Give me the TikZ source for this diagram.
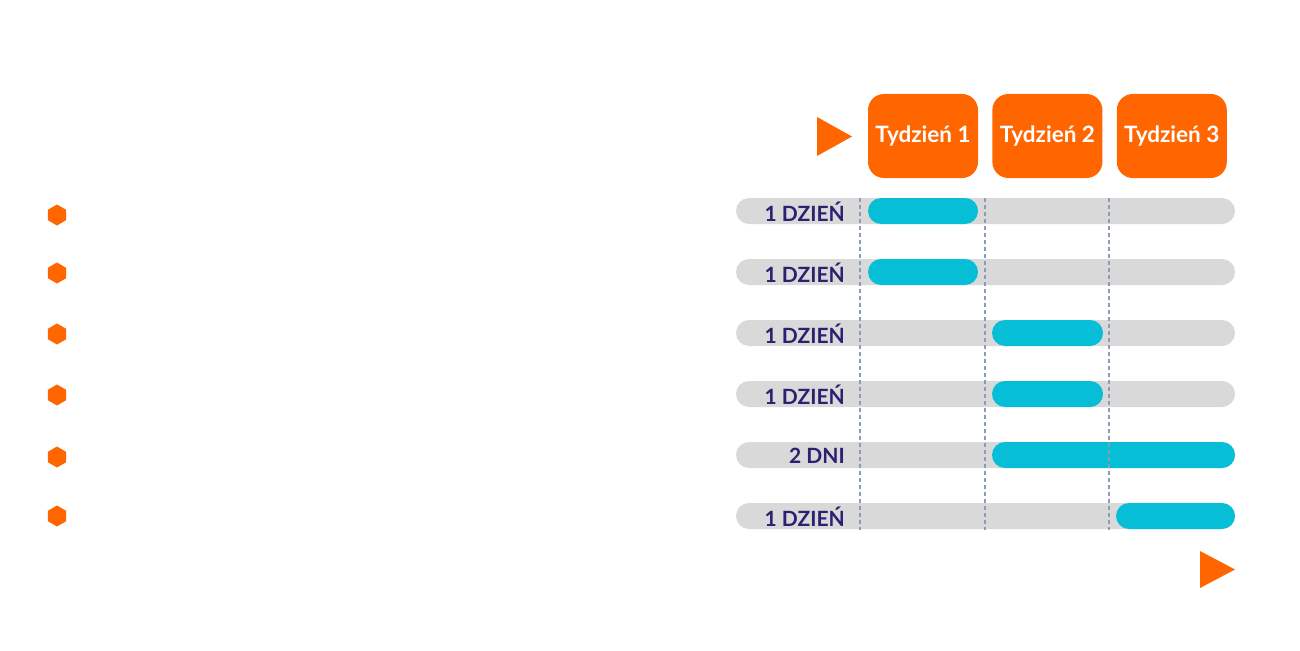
\documentclass[tikz,border=0pt]{standalone}
\usepackage{fontspec}
\setmainfont{Lato}
\usepackage{xcolor}
\usetikzlibrary{positioning,shapes.geometric}
\definecolor{orangex}{HTML}{FF6600}
\definecolor{cyanx}{HTML}{06BED6}
\definecolor{trackx}{HTML}{D9D9D9}
\definecolor{navyx}{HTML}{2A2170}
\definecolor{dashx}{HTML}{8A9DB2}
\tikzset{
  week/.style={fill=orangex,rounded corners=16pt,minimum width=110pt,minimum height=84pt,
    text=white,font=\fontsize{22.5}{26}\selectfont\bfseries,inner sep=0pt},
  hexa/.style={regular polygon,regular polygon sides=6,regular polygon rotate=30,
    fill=orangex,minimum size=21pt,inner sep=0pt},
  daylabel/.style={anchor=east,text=navyx,font=\fontsize{21}{25}\selectfont\bfseries,inner sep=0pt},
  track/.style={fill=trackx,rounded corners=13pt},
  slot/.style={fill=cyanx,rounded corners=13pt},
  weekline/.style={dashx,line width=1.6pt,dash pattern=on 4pt off 3pt}
}

\begin{document}
\begin{tikzpicture}[x=1pt,y=-1pt]
\useasboundingbox (0,0) rectangle (1300,650);
% week headers
\node[week] (week1) at (923,136) {Tydzień 1};
\node[week,right=14pt of week1] (week2) {Tydzień 2};
\node[week,right=14pt of week2] (week3) {Tydzień 3};
\fill[orangex] (817,117)--(852,136.5)--(817,156)--cycle;
% rows
\foreach \y/\hy/\a/\b/\lab [count=\i] in {211/215/868/978/1 DZIEŃ,272/273/868/978/1 DZIEŃ,
    333/334/992/1103/1 DZIEŃ,394/395/992/1103/1 DZIEŃ,455/457/992/1235/2 DNI,516/516/1116/1235/1 DZIEŃ}{
  \node[hexa] (bullet\i) at (57,\hy) {};
  \fill[track] (736,\y-13) rectangle (1235,\y+13);
  \fill[slot] (\a,\y-13) rectangle (\b,\y+13);
  \node[daylabel] (days\i) at (845,\y+1) {\lab};
}
% week borders
\foreach \x [count=\j] in {860,985,1109}{
  \coordinate (top\j) at (\x,198);
  \coordinate (bot\j) at (\x,530);
  \draw[weekline] (top\j) -- (bot\j);
}
\fill[orangex] (1200,551)--(1235,569.5)--(1200,588)--cycle;
\end{tikzpicture}
\end{document}
